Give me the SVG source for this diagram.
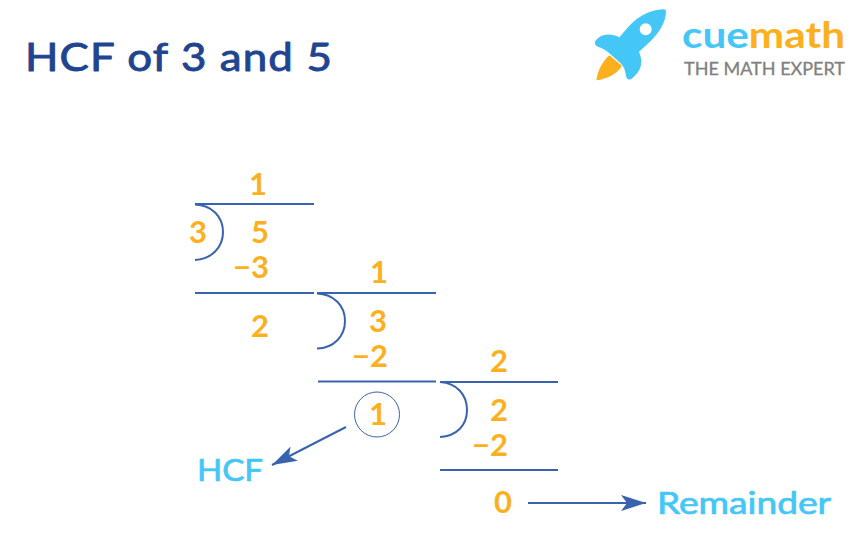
<svg xmlns="http://www.w3.org/2000/svg" width="854" height="536" viewBox="0 0 854 536">
<style>
text{font-family:"Lato","Liberation Sans",sans-serif}
.n{font-size:31px;font-weight:700;fill:#fdb01e;text-anchor:middle}
.b{font-size:30px;font-weight:400;fill:#44c7f7;stroke:#44c7f7;stroke-width:.7px;stroke-linejoin:round}
.l{stroke:#3a63ae;stroke-width:2;fill:none}
</style>
<defs><marker id="a" markerUnits="userSpaceOnUse" markerWidth="26" markerHeight="18" refX="25" refY="9" orient="auto"><path d="M0 1L25 9L0 17L6 9Z" fill="#3a63ae"/></marker></defs>
<rect width="854" height="536" fill="#fff"/>
<text id="title" x="25" y="71" font-size="38" letter-spacing="1" fill="#1f4590" stroke="#1f4590" stroke-width=".9" stroke-linejoin="round" textLength="308" lengthAdjust="spacingAndGlyphs">HCF of 3 and 5</text>
<g id="logo">
<g transform="translate(580 0) scale(.3333)">
<path d="M88 166L126 197C112 222 82 236 49 241C54 208 68 184 88 166Z" fill="#fdb01e"/>
<path fill-rule="evenodd" fill="#44c7f7" d="M258 36C256 70 238 98 205 130L177 155C187 180 190 205 160 232C150 243 140 240 138 228C136 212 132 200 122 190L88 160C78 150 68 145 54 140C42 134 42 124 52 116C70 100 95 100 118 112L150 75C180 45 215 30 248 28C255 27 258 30 258 36ZM197 70A18 18 0 1 0 197 106A18 18 0 1 0 197 70Z"/>
</g>
<text x="682" y="48" font-size="37" font-weight="700" fill="#44c7f7" textLength="163" lengthAdjust="spacingAndGlyphs">cue<tspan fill="#fdb01e">math</tspan></text>
<text x="684" y="75" font-size="17.500" fill="#808080" stroke="#808080" stroke-width=".3" textLength="161" lengthAdjust="spacingAndGlyphs">THE MATH EXPERT</text>
</g>
<g id="connectors">
<path class="l" d="M195 204H314M195 293H314M317 293H436M318 381.500H436M440 382H558M440 470H558"/>
<path class="l" d="M195 204.500C212 205 223 217 223 232C223 247 212 259 195 260"/>
<path class="l" d="M317 293.500C334 294 345 306 345 321C345 336 334 348 317 348.500"/>
<path class="l" d="M440 382C457 383 467 395 467 410C467 425 457 436 440 437"/>
<path class="l" d="M346 427L272 465" marker-end="url(#a)"/>
<path class="l" d="M528 503H646" marker-end="url(#a)"/>
</g>
<g id="node-circle"><circle cx="377" cy="414.500" r="22.500" fill="none" stroke="#3a63ae" stroke-width="1"/></g>
<g id="step1">
<text class="n" x="258" y="195">1</text><text class="n" x="198" y="243">3</text><text class="n" x="260" y="243">5</text><text class="n" x="251" y="278">−3</text><text class="n" x="260" y="337">2</text>
</g>
<g id="step2">
<text class="n" x="379" y="283">1</text><text class="n" x="378" y="332">3</text><text class="n" x="370" y="367">−2</text><text class="n" x="378" y="425">1</text>
</g>
<g id="step3">
<text class="n" x="499" y="372">2</text><text class="n" x="499" y="421">2</text><text class="n" x="490" y="456">−2</text><text class="n" x="503" y="513">0</text>
</g>
<text id="hcf" class="b" x="197" y="481" textLength="66" lengthAdjust="spacingAndGlyphs">HCF</text>
<text id="remainder" class="b" x="657" y="514" textLength="174" lengthAdjust="spacingAndGlyphs">Remainder</text>
</svg>
